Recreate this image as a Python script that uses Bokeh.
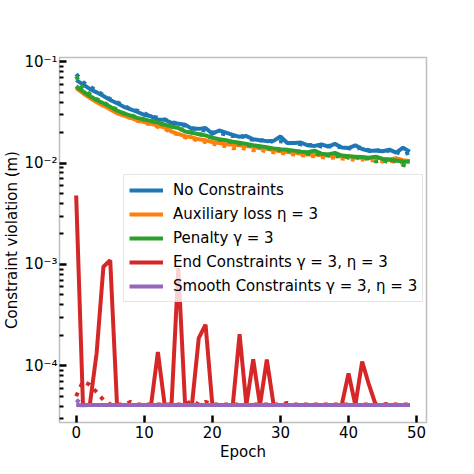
from bokeh.plotting import figure
from bokeh.models import Range1d, FixedTicker, CustomJSTickFormatter, Legend, LegendItem
from bokeh.embed import file_html
from bokeh.resources import INLINE

epochs = list(range(50))

no_constraints = [0.066, 0.060, 0.054, 0.050, 0.046, 0.042, 0.039, 0.036, 0.034, 0.032,
                  0.030, 0.029, 0.027, 0.0268, 0.025, 0.0245, 0.0240, 0.0218, 0.0218, 0.0222,
                  0.0195, 0.0210, 0.0200, 0.0190, 0.0182, 0.0185, 0.0172, 0.0168, 0.0165, 0.0166,
                  0.0184, 0.0158, 0.0158, 0.0160, 0.0150, 0.0148, 0.0153, 0.0146, 0.0155, 0.0143,
                  0.0141, 0.0150, 0.0138, 0.0132, 0.0133, 0.0131, 0.0136, 0.0127, 0.0142, 0.0130]
no_constraints_val = [0.076, 0.063, 0.057, 0.052, 0.047, 0.043, 0.040, 0.037, 0.034, 0.033,
                      0.031, 0.029, 0.028, 0.027, 0.026, 0.024, 0.0235, 0.0222, 0.0215, 0.0210,
                      0.0202, 0.0198, 0.0192, 0.0185, 0.0190, 0.0175, 0.0170, 0.0167, 0.0172, 0.0160,
                      0.0165, 0.0157, 0.0160, 0.0153, 0.0150, 0.0152, 0.0146, 0.0149, 0.0142, 0.0145,
                      0.0140, 0.0138, 0.0143, 0.0134, 0.0136, 0.0130, 0.0133, 0.0129, 0.0121, 0.0128]

auxiliary = [0.055, 0.049, 0.044, 0.040, 0.037, 0.034, 0.031, 0.0295, 0.028, 0.0265,
             0.0255, 0.0245, 0.0235, 0.0225, 0.0205, 0.0195, 0.0185, 0.0180, 0.0172, 0.0168,
             0.0162, 0.0158, 0.0154, 0.0152, 0.0150, 0.0148, 0.0145, 0.0140, 0.0139, 0.0134,
             0.0131, 0.0129, 0.0127, 0.0124, 0.0122, 0.0122, 0.0120, 0.0118, 0.0119, 0.0116,
             0.0118, 0.0114, 0.0113, 0.0112, 0.0115, 0.0110, 0.0109, 0.0112, 0.0107, 0.0105]
auxiliary_val = [0.058, 0.050, 0.045, 0.041, 0.037, 0.034, 0.0315, 0.0295, 0.0278, 0.0262,
                 0.0250, 0.0240, 0.0228, 0.0218, 0.0200, 0.0192, 0.0180, 0.0175, 0.0166, 0.0162,
                 0.0156, 0.0150, 0.0147, 0.0140, 0.0143, 0.0138, 0.0134, 0.0136, 0.0130, 0.0128,
                 0.0126, 0.0124, 0.0122, 0.0120, 0.0118, 0.0117, 0.0115, 0.0112, 0.0114, 0.0111,
                 0.0110, 0.0108, 0.0109, 0.0106, 0.0108, 0.0104, 0.0106, 0.0102, 0.0101, 0.0099]

penalty = [0.057, 0.051, 0.046, 0.042, 0.039, 0.036, 0.033, 0.031, 0.0295, 0.028,
           0.027, 0.026, 0.0252, 0.024, 0.023, 0.0222, 0.0205, 0.0200, 0.0193, 0.0188,
           0.0178, 0.0172, 0.0168, 0.0163, 0.0159, 0.0155, 0.0150, 0.0147, 0.0144, 0.0140,
           0.0137, 0.0136, 0.0133, 0.0130, 0.0128, 0.0133, 0.0124, 0.0122, 0.0126, 0.0119,
           0.0117, 0.0116, 0.0115, 0.0113, 0.0116, 0.0110, 0.0108, 0.0106, 0.0104, 0.0103]
penalty_val = [0.072, 0.055, 0.048, 0.043, 0.040, 0.036, 0.034, 0.031, 0.030, 0.028,
               0.027, 0.0262, 0.025, 0.0238, 0.0230, 0.0218, 0.0212, 0.0200, 0.0195, 0.0186,
               0.0180, 0.0170, 0.0166, 0.0160, 0.0155, 0.0152, 0.0146, 0.0145, 0.0140, 0.0138,
               0.0134, 0.0133, 0.0128, 0.0131, 0.0124, 0.0126, 0.0120, 0.0121, 0.0116, 0.0118,
               0.0113, 0.0115, 0.0110, 0.0112, 0.0104, 0.0108, 0.0101, 0.0106, 0.0096, 0.0093]

end_constraints = [4.8e-3, 4.1e-5, 4.1e-5, 1.33e-4, 9.5e-4, 1.1e-3, 4.1e-5, 4.1e-5, 4.1e-5, 4.1e-5,
                   4.1e-5, 4.1e-5, 1.37e-4, 4.1e-5, 4.1e-5, 9.2e-4, 4.1e-5, 4.1e-5, 1.87e-4, 2.55e-4,
                   4.1e-5, 4.1e-5, 4.1e-5, 4.1e-5, 2.05e-4, 4.1e-5, 1.16e-4, 4.1e-5, 1.15e-4, 4.1e-5,
                   4.1e-5, 4.1e-5, 4.1e-5, 4.1e-5, 4.1e-5, 4.1e-5, 4.1e-5, 4.1e-5, 4.1e-5, 4.1e-5,
                   8.4e-5, 4.1e-5, 1.1e-4, 6.5e-5, 4.1e-5, 4.1e-5, 4.1e-5, 4.1e-5, 4.1e-5, 4.1e-5]
end_constraints_val = [5.0e-5, 7.0e-5, 6.5e-5, 5.5e-5, 4.6e-5, 4.15e-5, 4.15e-5, 4.15e-5, 4.4e-5, 4.15e-5,
                       4.15e-5, 4.15e-5, 4.15e-5, 4.15e-5, 4.15e-5, 4.15e-5, 4.15e-5, 4.5e-5, 4.15e-5, 4.4e-5,
                       4.15e-5, 4.15e-5, 4.15e-5, 4.15e-5, 4.15e-5, 4.15e-5, 4.15e-5, 4.15e-5, 4.15e-5, 4.15e-5,
                       4.15e-5, 4.3e-5, 4.15e-5, 4.15e-5, 4.15e-5, 4.15e-5, 4.15e-5, 4.15e-5, 4.15e-5, 4.15e-5,
                       4.15e-5, 4.15e-5, 4.15e-5, 4.15e-5, 4.15e-5, 4.15e-5, 4.2e-5, 4.15e-5, 4.15e-5, 4.15e-5]

smooth_constraints = [4.1e-5, 4.08e-5, 4.1e-5, 4.1e-5, 4.09e-5, 4.1e-5, 4.1e-5, 4.1e-5, 4.1e-5, 4.1e-5,
                      4.1e-5, 4.1e-5, 4.09e-5, 4.1e-5, 4.1e-5, 4.1e-5, 4.1e-5, 4.1e-5, 4.1e-5, 4.1e-5,
                      4.1e-5, 4.1e-5, 4.1e-5, 4.1e-5, 4.1e-5, 4.1e-5, 4.1e-5, 4.1e-5, 4.1e-5, 4.1e-5,
                      4.1e-5, 4.1e-5, 4.1e-5, 4.1e-5, 4.1e-5, 4.1e-5, 4.1e-5, 4.1e-5, 4.1e-5, 4.1e-5,
                      4.1e-5, 4.1e-5, 4.1e-5, 4.1e-5, 4.1e-5, 4.1e-5, 4.1e-5, 4.1e-5, 4.1e-5, 4.1e-5]
smooth_constraints_val = [4.6e-5, 4.12e-5, 4.1e-5, 4.1e-5, 4.1e-5, 4.1e-5, 4.1e-5, 4.1e-5, 4.1e-5, 4.1e-5,
                          4.1e-5, 4.1e-5, 4.1e-5, 4.1e-5, 4.1e-5, 4.1e-5, 4.1e-5, 4.1e-5, 4.1e-5, 4.1e-5,
                          4.1e-5, 4.1e-5, 4.1e-5, 4.1e-5, 4.1e-5, 4.1e-5, 4.1e-5, 4.1e-5, 4.1e-5, 4.1e-5,
                          4.1e-5, 4.1e-5, 4.1e-5, 4.1e-5, 4.1e-5, 4.1e-5, 4.1e-5, 4.1e-5, 4.1e-5, 4.1e-5,
                          4.1e-5, 4.1e-5, 4.1e-5, 4.1e-5, 4.1e-5, 4.1e-5, 4.1e-5, 4.1e-5, 4.1e-5, 4.1e-5]

labels = ["No Constraints", "Auxiliary loss \u03b7 = 3", "Penalty \u03b3 = 3",
          "End Constraints \u03b3 = 3, \u03b7 = 3", "Smooth Constraints \u03b3 = 3, \u03b7 = 3"]
colors = ["#1f77b4", "#ff7f0e", "#2ca02c", "#d62728", "#9467bd"]
x_ticks = [0, 10, 20, 30, 40, 50]
y_major = [1e-4, 1e-3, 1e-2, 1e-1]

FONT = "DejaVu Sans"

p = figure(frame_width=367, frame_height=365, y_axis_type="log",
           x_range=Range1d(-2.45, 51.45), y_range=Range1d(10 ** -4.56, 10 ** -0.957),
           output_backend="svg", toolbar_location=None,
           min_border_left=59, min_border_top=57, min_border_right=40, min_border_bottom=44)
p.background_fill_color = "white"
p.border_fill_color = "white"
p.outline_line_color = "#bfbfbf"
p.outline_line_width = 1.5
p.xgrid.visible = False
p.ygrid.visible = False

series = [(no_constraints, no_constraints_val), (auxiliary, auxiliary_val), (penalty, penalty_val),
          (end_constraints, end_constraints_val), (smooth_constraints, smooth_constraints_val)]
items = []
for (solid, dotted), c, lab in zip(series, colors, labels):
    r = p.line(epochs, solid, line_color=c, line_width=4)
    p.line(epochs, dotted, line_color=c, line_width=4, line_dash="4 6")
    items.append(LegendItem(label=lab, renderers=[r]))

minor = [k * m for m in [1e-5, 1e-4, 1e-3, 1e-2] for k in range(2, 10)]
p.yaxis.ticker = FixedTicker(ticks=y_major, minor_ticks=minor)
p.xaxis.ticker = FixedTicker(ticks=x_ticks, minor_ticks=[])
p.yaxis.formatter = CustomJSTickFormatter(code="""
const e = Math.round(Math.log10(tick));
const m = {'-':'\u207b','0':'\u2070','1':'\u00b9','2':'\u00b2','3':'\u00b3','4':'\u2074','5':'\u2075','6':'\u2076','7':'\u2077','8':'\u2078','9':'\u2079'};
return '10' + String(e).split('').map(c => m[c]).join('');
""")

for ax in (p.xaxis[0], p.yaxis[0]):
    ax.axis_line_color = None
    ax.major_tick_line_color = "black"
    ax.major_tick_line_width = 2.5
    ax.major_tick_in = 7
    ax.major_tick_out = 0
    ax.minor_tick_line_color = "black"
    ax.minor_tick_line_width = 2
    ax.minor_tick_in = 4
    ax.minor_tick_out = 0
    ax.major_label_text_font = FONT
    ax.major_label_text_font_size = "15px"
    ax.major_label_text_color = "black"
    ax.axis_label_text_font = FONT
    ax.axis_label_text_font_size = "15px"
    ax.axis_label_text_font_style = "normal"
    ax.axis_label_text_color = "black"

p.xaxis.axis_label = "Epoch"
p.yaxis.axis_label = "Constraint violation (m)"
p.xaxis.major_label_standoff = 3
p.xaxis.axis_label_standoff = 2
p.yaxis.major_label_standoff = 2
p.yaxis.axis_label_standoff = 0

legend = Legend(items=items, location=(64, 120))
legend.label_text_font = FONT
legend.label_text_font_size = "15px"
legend.label_text_color = "black"
legend.glyph_width = 34
legend.glyph_height = 20
legend.label_height = 20
legend.label_standoff = 10
legend.spacing = 4
legend.padding = 5
legend.margin = 0
legend.border_line_color = "#cccccc"
legend.border_line_width = 1
legend.background_fill_color = "white"
legend.background_fill_alpha = 0.8
p.add_layout(legend)

open("out.html", "w").write(file_html(p, INLINE))
